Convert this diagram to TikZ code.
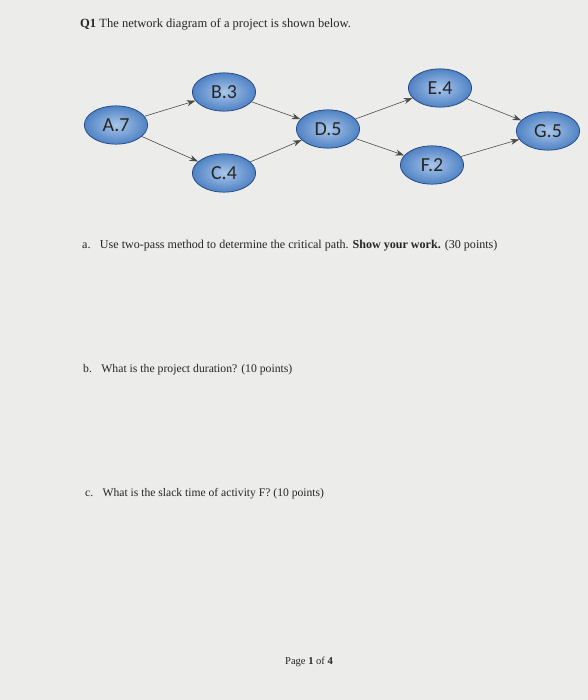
\documentclass[tikz,border=0pt]{standalone}
\usepackage{fontspec}
\setmainfont{Liberation Serif}
\newfontfamily\nodefont{Carlito}
\usetikzlibrary{arrows.meta, shapes.geometric}

\definecolor{pagegray}{HTML}{ECECEA}
\definecolor{actblue}{HTML}{4F82C4}
\definecolor{actlight}{HTML}{A9C6EA}
\definecolor{actedge}{HTML}{23457E}
\definecolor{linkgray}{HTML}{4A4A4A}

\tikzset{
  activity/.style={ellipse, draw=actedge, line width=0.6pt, inner color=actlight, outer color=actblue,
    minimum width=1.9cm, minimum height=1.15cm, inner sep=0pt, font=\nodefont\fontsize{17}{19}\selectfont, text=black!85},
  link/.style={draw=linkgray, line width=0.5pt, -{Stealth[length=2.6mm, width=1.8mm]}},
  pagetext/.style={anchor=base west, inner sep=0pt, font=\fontsize{10.3}{12}\selectfont, text=black!85}
}

\begin{document}
\begin{tikzpicture}[x=0.03cm, y=-0.03cm]
\fill[pagegray] (0,0) rectangle (588,700);
\useasboundingbox (0,0) rectangle (588,700);

\node[pagetext, font=\fontsize{10.7}{12}\selectfont] (title) at (80, 28) {\textbf{Q1} The network diagram of a project is shown below.};

%% activities
\node[activity] (A) at (116, 125) {A.7};
\node[activity] (B) at (224, 92) {B.3};
\node[activity] (C) at (224, 173) {C.4};
\node[activity] (D) at (328, 129) {D.5};
\node[activity] (E) at (440, 88) {E.4};
\node[activity] (F) at (432, 165) {F.2};
\node[activity] (G) at (548, 131) {G.5};

%% links
\draw[link] (A) -- (B);
\draw[link] (A) -- (C);
\draw[link] (B) -- (D);
\draw[link] (C) -- (D);
\draw[link] (D) -- (E);
\draw[link] (D) -- (F);
\draw[link] (E) -- (G);
\draw[link] (F) -- (G);

%% questions
\node[pagetext] (qa) at (82, 248) {a.\hspace{8pt}Use two-pass method to determine the critical path. \textbf{Show your work.} (30 points)};
\node[pagetext, font=\fontsize{10}{12}\selectfont] (qb) at (83, 372) {b.\hspace{8pt}What is the project duration? (10 points)};
\node[pagetext, font=\fontsize{9.9}{12}\selectfont] (qc) at (85, 496) {c.\hspace{8pt}What is the slack time of activity F? (10 points)};

\node[pagetext, anchor=base] (page) at (309, 664) {\fontsize{9}{11}\selectfont Page \textbf{1} of \textbf{4}};
\end{tikzpicture}
\end{document}
